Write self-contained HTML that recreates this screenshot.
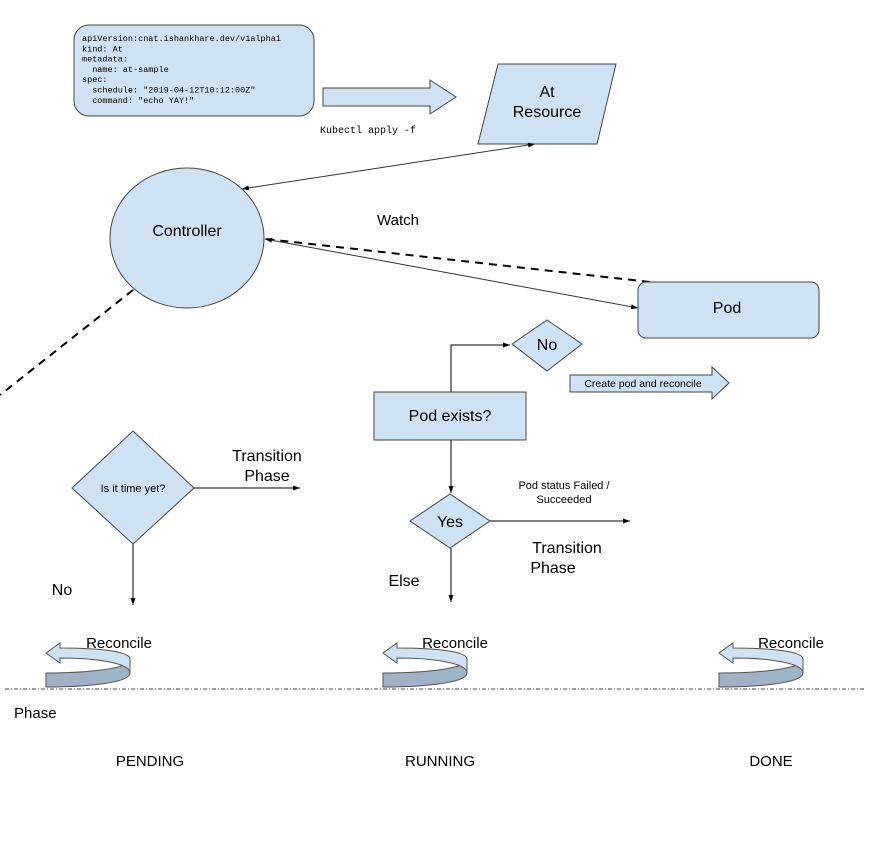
<!DOCTYPE html>
<html><head><meta charset="utf-8"><style>
body{margin:0;background:#fff}
svg text{font-family:"Liberation Sans",sans-serif;fill:#000}
.m{font-family:"Liberation Mono",monospace;font-size:8.5px;white-space:pre}
</style></head><body>
<svg width="880" height="862" viewBox="0 0 880 862" xmlns="http://www.w3.org/2000/svg" xml:space="preserve">
<defs>
<marker id="a" markerWidth="8" markerHeight="8" refX="7" refY="4" orient="auto-start-reverse" markerUnits="userSpaceOnUse"><path d="M0,1.5 L7,4 L0,6.5z" fill="#000"/></marker>
<g id="rec">
<path d="M0,30 L0,44 C40,44 84,40 84,30 L84,16 C84,26 40,30 0,30z" fill="#9fb2c6" stroke="#555" stroke-width="1"/>
<path d="M84,16 C84,8 50,5 14,5 L14,0 L0,10 L14,20 L14,15 C50,15 84,20 84,30z" fill="#cfe2f3" stroke="#555" stroke-width="1"/>
</g>
</defs>
<rect x="74" y="25" width="240" height="91" rx="15" fill="#cfe2f3" stroke="#444"/>
<text class="m" x="82" y="41">apiVersion:cnat.ishankhare.dev/v1alpha1</text>
<text class="m" x="82" y="51.3">kind: At</text>
<text class="m" x="82" y="61.6">metadata:</text>
<text class="m" x="82" y="71.9">  name: at-sample</text>
<text class="m" x="82" y="82.2">spec:</text>
<text class="m" x="82" y="92.5">  schedule: "2019-04-12T10:12:00Z"</text>
<text class="m" x="82" y="102.8">  command: "echo YAY!"</text>
<path d="M323,88 H430 V80 L456,97 L430,114 V106 H323z" fill="#cfe2f3" stroke="#444"/>
<text class="m" x="320" y="133" style="font-size:10px">Kubectl apply -f</text>
<path d="M498,64 H616 L597,144 H478z" fill="#cfe2f3" stroke="#444"/>
<text x="547" y="97" font-size="16" text-anchor="middle">At</text>
<text x="547" y="117" font-size="16" text-anchor="middle">Resource</text>
<line x1="242" y1="189" x2="535" y2="144" stroke="#333" marker-end="url(#a)" marker-start="url(#a)"/>
<ellipse cx="187" cy="238" rx="77" ry="70" fill="#cfe2f3" stroke="#444"/>
<text x="187" y="236" font-size="16" text-anchor="middle">Controller</text>
<text x="398" y="225" font-size="15" text-anchor="middle">Watch</text>
<line x1="650" y1="282" x2="266" y2="239" stroke="#000" stroke-width="2" stroke-dasharray="8,6"/>
<line x1="638" y1="308" x2="265" y2="239" stroke="#333" marker-end="url(#a)" marker-start="url(#a)"/>
<rect x="638" y="282" width="181" height="56" rx="8" fill="#cfe2f3" stroke="#444"/>
<text x="727" y="313" font-size="16" text-anchor="middle">Pod</text>
<line x1="133" y1="290" x2="0" y2="395" stroke="#000" stroke-width="2" stroke-dasharray="8,6"/>
<path d="M547,320 L582,344 L547,371 L512,344z" fill="#cfe2f3" stroke="#444"/>
<text x="547" y="350" font-size="16" text-anchor="middle">No</text>
<path d="M451,392 V345 H510" fill="none" stroke="#000" marker-end="url(#a)"/>
<path d="M570,375 H712 V367 L729,383 L712,399 V392 H570z" fill="#cfe2f3" stroke="#444"/>
<text x="643" y="387" font-size="10.5" text-anchor="middle">Create pod and reconcile</text>
<rect x="374" y="392" width="152" height="48" fill="#cfe2f3" stroke="#444"/>
<text x="450" y="421" font-size="16" text-anchor="middle">Pod exists?</text>
<line x1="451" y1="440" x2="451" y2="493" stroke="#000" marker-end="url(#a)"/>
<path d="M450,494 L490,521 L450,548 L410,521z" fill="#cfe2f3" stroke="#444"/>
<text x="450" y="527" font-size="16" text-anchor="middle">Yes</text>
<line x1="490" y1="521" x2="630" y2="521" stroke="#000" marker-end="url(#a)"/>
<text x="564" y="489" font-size="11" text-anchor="middle">Pod status Failed /</text>
<text x="564" y="503" font-size="11" text-anchor="middle">Succeeded</text>
<text x="567" y="553" font-size="16" text-anchor="middle">Transition</text>
<text x="553" y="573" font-size="16" text-anchor="middle">Phase</text>
<text x="404" y="586" font-size="16" text-anchor="middle">Else</text>
<line x1="451" y1="548" x2="451" y2="602" stroke="#000" marker-end="url(#a)"/>
<path d="M133,431 L194,488 L133,544 L72,488z" fill="#cfe2f3" stroke="#444"/>
<text x="133" y="492" font-size="11" text-anchor="middle">Is it time yet?</text>
<line x1="194" y1="488" x2="300" y2="488" stroke="#000" marker-end="url(#a)"/>
<text x="267" y="461" font-size="16" text-anchor="middle">Transition</text>
<text x="267" y="481" font-size="16" text-anchor="middle">Phase</text>
<line x1="133" y1="544" x2="133" y2="605" stroke="#000" marker-end="url(#a)"/>
<text x="62" y="595" font-size="16" text-anchor="middle">No</text>
<use href="#rec" x="46" y="643"/>
<use href="#rec" x="383" y="643"/>
<use href="#rec" x="719" y="643"/>
<text x="119" y="648" font-size="15" text-anchor="middle">Reconcile</text>
<text x="455" y="648" font-size="15" text-anchor="middle">Reconcile</text>
<text x="791" y="648" font-size="15" text-anchor="middle">Reconcile</text>
<line x1="5" y1="689" x2="866" y2="689" stroke="#444" stroke-dasharray="4,2,1,2"/>
<text x="14" y="718" font-size="15">Phase</text>
<text x="150" y="766" font-size="15" text-anchor="middle">PENDING</text>
<text x="440" y="766" font-size="15" text-anchor="middle">RUNNING</text>
<text x="771" y="766" font-size="15" text-anchor="middle">DONE</text>
</svg>
</body></html>
